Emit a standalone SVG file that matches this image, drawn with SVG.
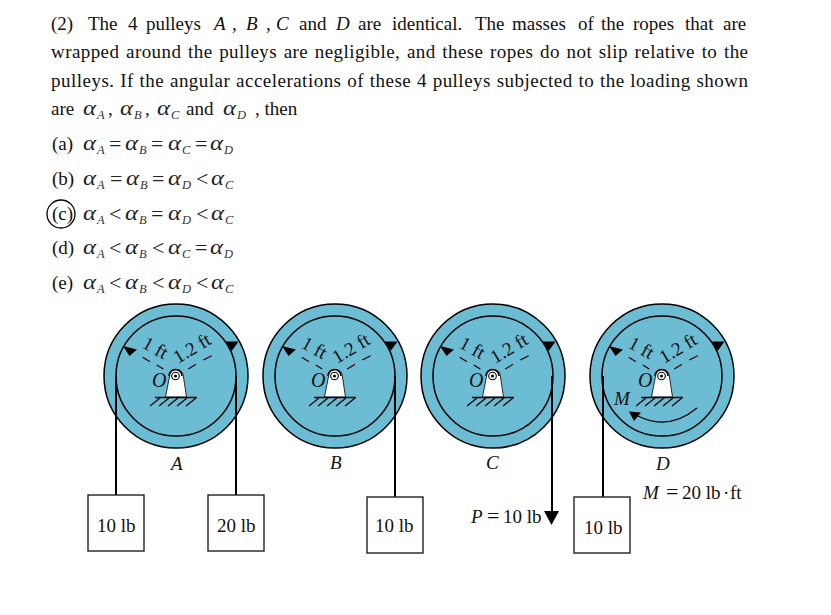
<svg xmlns="http://www.w3.org/2000/svg" width="831" height="615" viewBox="0 0 831 615">
<style>
text{font-family:"Liberation Serif",serif;fill:#111}
.t{font-size:19px}
.i{font-style:italic}
.g{font-style:italic;font-size:21px;fill:#222}
.s{font-style:italic;font-size:12.5px;fill:#333}
.r{font-size:22px;fill:#222}
.fig{font-size:19px}
.lab{font-size:19px;font-style:italic}
.line{fill:none;stroke:#000;stroke-width:1.5}
.rope{fill:none;stroke:#000;stroke-width:2}
.box{fill:#fff;stroke:#222;stroke-width:1.4}
.dash{fill:none;stroke:#000;stroke-width:1.2}
</style>
<defs>
<g id="pulley">
<circle r="72" fill="#6cbcd3" stroke="#000" stroke-width="1.5"/>
<circle r="60" fill="#6cbcd3" stroke="#000" stroke-width="1.5"/>
<path d="M-10.500 21 L-6 -2 A7 7 0 0 1 7 -2 L10.500 21 Z" fill="#fff" stroke="#000" stroke-width="0.8"/>
<path d="M-7 0A6.500 6.500 0 0 1 6 0" fill="none" stroke="#000" stroke-width="1.600"/>
<circle cx="-0.500" cy="0" r="3.800" fill="#fff" stroke="#000" stroke-width="1.100"/>
<circle cx="-0.500" cy="0" r="1.500" fill="#000"/>
<path class="line" d="M-21 21.500H21"/>
<path d="M-16 22l-10 8M-7 22l-10 8M2 22l-10 8M11 22l-10 8M20 22l-10 8" fill="none" stroke="#000" stroke-width="1.300"/>
<path class="dash" d="M-33.300 -18.700L-26 -14.300M-19.300 -11L-12.700 -7M12.300 -7L20 -11.700M27.300 -16L35.700 -20.300"/>
<path d="M-53 -30L-39 -26.500L-46.500 -20Z" fill="#000"/>
<path d="M49.500 -34.500L62.500 -34.500L55.700 -25Z" fill="#000"/>
<text class="i" x="-24" y="10.500" style="font-size:20px">O</text>
<text class="fig" transform="translate(-35 -29) rotate(29)">1 ft</text>
<text class="fig" transform="translate(2 -12) rotate(-31)">1.2 ft</text>
</g>
</defs>

<g id="question">
<text class="t" y="30"><tspan x="51">(2)</tspan><tspan x="88">The</tspan><tspan x="128">4</tspan><tspan x="146">pulleys</tspan><tspan x="214" class="i">A</tspan><tspan x="232">,</tspan><tspan x="246" class="i">B</tspan><tspan x="266">,</tspan><tspan x="276" class="i">C</tspan><tspan x="299">and</tspan><tspan x="336" class="i">D</tspan><tspan x="358">are</tspan><tspan x="392">identical.</tspan><tspan x="475">The</tspan><tspan x="512">masses</tspan><tspan x="578">of</tspan><tspan x="601">the</tspan><tspan x="633">ropes</tspan><tspan x="685">that</tspan><tspan x="723">are</tspan></text>
<text class="t" x="51" y="58" word-spacing="1.500" textLength="697">wrapped around the pulleys are negligible, and these ropes do not slip relative to the</text>
<text class="t" x="51" y="87" word-spacing="0.500" textLength="697">pulleys. If the angular accelerations of these 4 pulleys subjected to the loading shown</text>
<text class="t" x="51" y="115">are</text>
<text class="g" x="83" y="115" textLength="13" lengthAdjust="spacingAndGlyphs">α</text><text class="s" x="97" y="119">A</text><text class="t" x="108" y="115">,</text>
<text class="g" x="120" y="115" textLength="13" lengthAdjust="spacingAndGlyphs">α</text><text class="s" x="134" y="119">B</text><text class="t" x="145" y="115">,</text>
<text class="g" x="157" y="115" textLength="13" lengthAdjust="spacingAndGlyphs">α</text><text class="s" x="171" y="119">C</text>
<text class="t" x="186" y="115">and</text>
<text class="g" x="223" y="115" textLength="13" lengthAdjust="spacingAndGlyphs">α</text><text class="s" x="237" y="119">D</text>
<text class="t" x="255" y="115">, then</text>
</g>

<g id="option-a">
<text class="t" x="52" y="150">(a)</text>
<text class="g" x="83" y="150" textLength="13" lengthAdjust="spacingAndGlyphs">α</text><text class="s" x="97" y="154">A</text><text class="r" x="109" y="151">=</text>
<text class="g" x="125" y="150" textLength="13" lengthAdjust="spacingAndGlyphs">α</text><text class="s" x="139" y="154">B</text><text class="r" x="151" y="151">=</text>
<text class="g" x="168" y="150" textLength="13" lengthAdjust="spacingAndGlyphs">α</text><text class="s" x="182" y="154">C</text><text class="r" x="195" y="151">=</text>
<text class="g" x="210" y="150" textLength="13" lengthAdjust="spacingAndGlyphs">α</text><text class="s" x="224" y="154">D</text>
</g>
<g id="option-b">
<text class="t" x="52" y="185">(b)</text>
<text class="g" x="83" y="185" textLength="13" lengthAdjust="spacingAndGlyphs">α</text><text class="s" x="97" y="189">A</text><text class="r" x="110" y="186">=</text>
<text class="g" x="126" y="185" textLength="13" lengthAdjust="spacingAndGlyphs">α</text><text class="s" x="140" y="189">B</text><text class="r" x="152" y="186">=</text>
<text class="g" x="168" y="185" textLength="13" lengthAdjust="spacingAndGlyphs">α</text><text class="s" x="182" y="189">D</text><text class="r" x="196" y="186">&lt;</text>
<text class="g" x="211" y="185" textLength="13" lengthAdjust="spacingAndGlyphs">α</text><text class="s" x="225" y="189">C</text>
</g>
<g id="option-c">
<circle cx="61" cy="214" r="14" fill="none" stroke="#000" stroke-width="1.300"/>
<text class="t" x="52" y="220">(c)</text>
<text class="g" x="83" y="220" textLength="13" lengthAdjust="spacingAndGlyphs">α</text><text class="s" x="97" y="224">A</text><text class="r" x="109" y="221">&lt;</text>
<text class="g" x="125" y="220" textLength="13" lengthAdjust="spacingAndGlyphs">α</text><text class="s" x="139" y="224">B</text><text class="r" x="151" y="221">=</text>
<text class="g" x="168" y="220" textLength="13" lengthAdjust="spacingAndGlyphs">α</text><text class="s" x="182" y="224">D</text><text class="r" x="196" y="221">&lt;</text>
<text class="g" x="211" y="220" textLength="13" lengthAdjust="spacingAndGlyphs">α</text><text class="s" x="225" y="224">C</text>
</g>
<g id="option-d">
<text class="t" x="52" y="254">(d)</text>
<text class="g" x="83" y="254" textLength="13" lengthAdjust="spacingAndGlyphs">α</text><text class="s" x="97" y="258">A</text><text class="r" x="109" y="255">&lt;</text>
<text class="g" x="125" y="254" textLength="13" lengthAdjust="spacingAndGlyphs">α</text><text class="s" x="139" y="258">B</text><text class="r" x="152" y="255">&lt;</text>
<text class="g" x="168" y="254" textLength="13" lengthAdjust="spacingAndGlyphs">α</text><text class="s" x="182" y="258">C</text><text class="r" x="195" y="255">=</text>
<text class="g" x="210" y="254" textLength="13" lengthAdjust="spacingAndGlyphs">α</text><text class="s" x="224" y="258">D</text>
</g>
<g id="option-e">
<text class="t" x="52" y="289">(e)</text>
<text class="g" x="83" y="289" textLength="13" lengthAdjust="spacingAndGlyphs">α</text><text class="s" x="97" y="293">A</text><text class="r" x="109" y="290">&lt;</text>
<text class="g" x="125" y="289" textLength="13" lengthAdjust="spacingAndGlyphs">α</text><text class="s" x="139" y="293">B</text><text class="r" x="152" y="290">&lt;</text>
<text class="g" x="168" y="289" textLength="13" lengthAdjust="spacingAndGlyphs">α</text><text class="s" x="182" y="293">D</text><text class="r" x="196" y="290">&lt;</text>
<text class="g" x="211" y="289" textLength="13" lengthAdjust="spacingAndGlyphs">α</text><text class="s" x="225" y="293">C</text>
</g>

<g id="pulley-A"><use href="#pulley" x="176" y="376"/><text class="lab" x="171" y="470">A</text></g>
<g id="pulley-B"><use href="#pulley" x="335" y="376"/><text class="lab" x="330" y="469">B</text></g>
<g id="pulley-C"><use href="#pulley" x="493" y="376"/><text class="lab" x="486" y="469">C</text></g>
<g id="pulley-D"><use href="#pulley" x="662" y="376"/><text class="lab" x="656" y="470">D</text>
<text class="lab" x="614" y="405">M</text>
<path d="M697 408Q668 432 636 415" fill="none" stroke="#000" stroke-width="1.300"/>
<path d="M629 411.500L641 412.500L634 421Z" fill="#000"/>
</g>

<g id="connectors">
<path class="rope" d="M116 376V495M236 376V495M395 376V497M552 376V512M603 376V497"/>
<path d="M544 511H559L551.500 525Z" fill="#000"/>
</g>

<g id="box-A1"><rect class="box" x="88" y="495" width="56" height="56"/><text class="t" x="97" y="532">10 lb</text></g>
<g id="box-A2"><rect class="box" x="208" y="495" width="56" height="56"/><text class="t" x="217" y="532">20 lb</text></g>
<g id="box-B"><rect class="box" x="367" y="497" width="56" height="56"/><text class="t" x="375" y="532">10 lb</text></g>
<g id="box-D"><rect class="box" x="574" y="497" width="56" height="56"/><text class="t" x="584" y="534">10 lb</text></g>
<g id="label-P"><text class="t" y="523"><tspan class="i" x="471">P</tspan><tspan x="487" style="font-size:22px">=</tspan><tspan x="503">10 lb</tspan></text></g>
<g id="label-M"><text class="t" y="499"><tspan class="i" x="643">M</tspan><tspan x="666" style="font-size:22px">=</tspan><tspan x="682">20 lb</tspan><tspan x="723">·</tspan><tspan x="730">ft</tspan></text></g>
</svg>
